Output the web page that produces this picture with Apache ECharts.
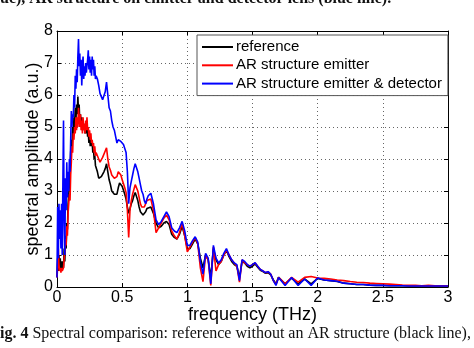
<!DOCTYPE html>
<html>
<head>
<meta charset="utf-8">
<script src="https://cdn.jsdelivr.net/npm/echarts@6/dist/echarts.min.js"></script>
<style>
html,body{margin:0;padding:0;background:#fff;}
#chart{width:474px;height:348px;}
</style>
</head>
<body>
<div id="chart"></div>
<script>
// frequency (THz)
var freq = [
0,0.005,0.01,0.015,0.02,0.025,0.03,0.035,0.04,0.045,0.05,0.055,0.06,0.065,0.07,0.075,0.08,0.085,0.09,0.095,
0.1,0.105,0.11,0.115,0.12,0.125,0.13,0.135,0.14,0.145,0.15,0.155,0.16,0.165,0.17,0.175,0.18,0.185,0.19,0.195,
0.2,0.205,0.21,0.215,0.22,0.225,0.23,0.235,0.24,0.245,0.25,0.255,0.26,0.265,0.27,0.275,0.28,0.285,0.29,0.295,0.3,
0.31,0.32,0.33,0.34,0.35,0.36,0.37,0.38,0.39,0.40,0.41,0.42,0.43,0.44,0.45,0.46,0.47,0.48,0.49,0.50,
0.51,0.52,0.53,0.54,0.55,0.56,0.57,0.58,0.59,0.60,0.61,0.62,0.63,0.64,0.65,0.66,0.67,0.68,0.69,0.70,
0.72,0.74,0.76,0.78,0.80,0.82,0.84,0.86,0.88,0.90,0.92,0.94,0.96,0.98,1.00,
1.02,1.04,1.06,1.08,1.10,1.12,1.14,1.16,1.18,1.20,1.22,1.24,1.26,1.28,1.30,
1.32,1.34,1.36,1.38,1.40,1.42,1.44,1.46,1.48,1.50,1.52,1.54,1.56,1.58,1.60,
1.62,1.64,1.66,1.68,1.70,
1.75,1.80,1.85,1.90,1.95,2.00,2.05,2.10,2.15,2.20,2.25,2.30,2.35,2.40,2.45,2.50,
2.55,2.60,2.65,2.70,2.75,2.80,2.85,2.90,2.95,3.00
];
// reference (black)
var reference = [
0.3,0.9,0.5,1.0,0.6,0.9,0.5,0.8,0.5,0.8,0.6,1.2,0.8,1.6,1.2,2.0,1.8,2.6,2.9,3.2,
3.6,4.2,4.6,4.4,5.0,4.7,5.3,5.0,5.6,5.2,5.7,5.4,5.95,5.5,5.7,5.1,5.4,5.0,5.3,4.9,
5.2,4.9,5.1,4.8,5.1,4.8,5.0,4.7,4.8,4.5,4.7,4.4,4.6,4.4,4.5,4.2,4.3,4.0,4.1,3.8,3.8,
3.6,3.4,3.35,3.45,3.5,3.6,3.7,3.85,3.6,3.35,3.2,3.0,2.95,2.9,2.85,2.9,3.1,3.25,3.2,3.15,
3.1,2.9,2.75,2.5,2.3,2.45,2.6,2.7,2.85,2.95,2.9,2.7,2.5,2.35,2.3,2.25,2.3,2.35,2.45,2.5,
2.5,2.3,2.0,1.85,1.9,2.0,2.05,1.95,1.65,1.55,1.5,1.65,1.9,1.6,1.2,
1.2,1.35,1.5,1.35,0.9,0.6,1.0,0.85,0.3,1.2,0.85,0.7,0.8,1.0,1.15,
0.95,0.8,0.7,0.65,0.3,0.8,0.75,0.65,0.6,0.65,0.72,0.62,0.52,0.48,0.43,
0.45,0.38,0.22,0.1,0.3,
0.1,0.28,0.1,0.25,0.1,0.27,0.22,0.2,0.17,0.12,0.1,0.08,0.08,0.06,0.05,0.05,
0.04,0.04,0.04,0.03,0.03,0.03,0.03,0.03,0.03,0.03
];
// AR structure emitter (red)
var emitter = [
0.3,0.6,1.2,0.7,0.5,0.6,0.45,0.6,0.5,0.55,0.6,0.9,1.1,1.5,1.3,1.9,1.6,2.3,2.6,2.9,
2.7,3.5,3.9,4.4,4.2,4.8,4.6,5.0,4.8,5.3,4.9,5.3,5.0,5.6,5.3,5.0,5.4,4.9,5.2,4.8,
5.3,4.9,5.1,4.8,5.2,4.9,5.3,4.9,5.0,4.7,4.9,4.6,4.8,4.5,4.6,4.4,4.5,4.2,4.4,4.1,4.2,
4.1,4.0,3.9,3.95,4.05,4.1,4.25,4.35,4.0,3.75,3.65,3.5,3.45,3.4,3.35,3.45,3.6,3.65,3.5,3.35,
3.3,3.1,2.95,2.4,1.55,2.4,2.7,2.9,3.05,3.2,3.25,3.0,2.8,2.6,2.5,2.45,2.5,2.6,2.7,2.75,
2.75,2.4,1.7,1.85,2.0,2.15,2.25,2.1,1.75,1.6,1.5,1.7,2.0,1.6,1.1,
1.25,1.4,1.55,1.35,0.6,0.17,1.0,0.85,0.05,1.25,0.5,0.7,0.8,1.0,1.15,
1.0,0.85,0.75,0.65,0.15,0.85,0.75,0.7,0.65,0.7,0.75,0.65,0.55,0.5,0.45,
0.47,0.4,0.2,0.08,0.3,
0.1,0.3,0.15,0.3,0.33,0.28,0.27,0.25,0.22,0.2,0.17,0.15,0.14,0.12,0.11,0.1,
0.09,0.08,0.06,0.05,0.05,0.04,0.05,0.04,0.04,0.04
];
// AR structure emitter & detector (blue)
var emitterDetector = [
0.3,2.5,0.9,2.6,1.5,2.4,1.2,2.6,1.0,3.2,5.2,2.0,1.0,3.4,2.4,3.9,2.8,3.6,3.0,4.0,
3.6,4.6,5.5,5.0,5.4,5.3,6.0,5.6,6.6,6.2,6.8,6.4,7.2,7.75,6.9,7.3,6.6,7.1,6.3,6.9,
7.2,6.5,6.9,6.6,7.0,6.7,6.9,7.1,7.4,6.8,7.2,6.7,7.1,6.6,7.2,6.8,7.1,6.6,6.9,6.5,6.6,
6.5,6.3,6.05,5.95,5.85,5.9,6.1,6.4,6.0,5.6,5.5,5.2,5.0,4.9,4.7,4.5,4.6,4.65,4.55,4.6,
4.45,4.4,4.2,3.6,2.6,3.1,3.3,3.5,3.7,3.85,3.8,3.6,3.4,3.2,3.0,2.9,2.7,2.6,2.75,2.85,
2.93,2.6,2.1,1.95,2.05,2.2,2.35,2.2,1.85,1.75,1.7,1.85,2.05,1.75,1.3,
1.3,1.45,1.57,1.4,0.8,0.4,1.05,0.9,0.1,1.3,0.9,0.75,0.85,1.05,1.2,
1.0,0.85,0.75,0.7,0.2,0.85,0.8,0.7,0.65,0.7,0.76,0.65,0.55,0.5,0.45,
0.48,0.4,0.2,0.05,0.3,
0.05,0.3,0.05,0.25,0.05,0.28,0.22,0.2,0.18,0.12,0.1,0.08,0.08,0.06,0.05,0.05,
0.04,0.04,0.04,0.03,0.03,0.03,0.03,0.03,0.03,0.03
];
var seriesNames = ['reference', 'AR structure emitter', 'AR structure emitter & detector'];
var seriesColors = ['#000000', '#ff0000', '#0000ff'];
var xTicks = [0, 0.5, 1, 1.5, 2, 2.5, 3];
var yTicks = [0, 1, 2, 3, 4, 5, 6, 7, 8];
var topCaption = 'ue), AR structure on emitter and detector lens (blue line).';
var bottomCaptionBold = 'ig. 4';
var bottomCaption = ' Spectral comparison: reference without an AR structure (black line),';

function pairs(vals) { return freq.map(function (f, i) { return [f, vals[i]]; }); }
var allVals = [reference, emitter, emitterDetector];

var FONT = '"Liberation Sans", Arial, Helvetica, sans-serif';
var chart = echarts.init(document.getElementById('chart'), null, {renderer: 'canvas'});
var axisCommon = {
  type: 'value',
  axisLine: {show: true, onZero: false, lineStyle: {color: '#000', width: 1}},
  axisTick: {show: true, inside: true, length: 4, lineStyle: {color: '#000'}}
};
chart.setOption({
  animation: false,
  backgroundColor: '#fff',
  grid: {left: 57, right: 26, top: 31, bottom: 61, containLabel: false},
  legend: {
    orient: 'vertical',
    left: 197, top: 35,
    data: seriesNames,
    backgroundColor: '#fff',
    borderColor: '#555',
    borderWidth: 1,
    borderRadius: 0,
    padding: [3, 6, 3, 5],
    itemGap: 0.3,
    itemWidth: 31,
    itemHeight: 2,
    icon: 'rect',
    textStyle: {fontFamily: FONT, fontSize: 15, color: '#000', lineHeight: 18, padding: [0, 0, 0, -2]}
  },
  xAxis: [
    Object.assign({}, axisCommon, {
      position: 'bottom', min: xTicks[0], max: xTicks[xTicks.length - 1], interval: 0.5,
      name: 'frequency (THz)', nameLocation: 'middle', nameGap: 19, nameMoveOverlap: false,
      nameTextStyle: {fontFamily: FONT, fontSize: 18, color: '#000'},
      axisLabel: {show: true, margin: 3, fontFamily: FONT, fontSize: 16, color: '#000'},
      splitLine: {show: true, lineStyle: {color: '#666', width: 1, type: [1, 3]}}
    }),
    Object.assign({}, axisCommon, {
      position: 'top', min: 0, max: 3, interval: 0.5,
      axisLabel: {show: false}, splitLine: {show: false}
    })
  ],
  yAxis: [
    Object.assign({}, axisCommon, {
      position: 'left', min: yTicks[0], max: yTicks[yTicks.length - 1], interval: 1,
      name: 'spectral amplitude (a.u.)', nameLocation: 'middle', nameGap: 15, nameMoveOverlap: false,
      nameTextStyle: {fontFamily: FONT, fontSize: 18, color: '#000'},
      axisLabel: {show: true, margin: 4, fontFamily: FONT, fontSize: 16, color: '#000'},
      splitLine: {show: true, lineStyle: {color: '#666', width: 1, type: [1, 3]}}
    }),
    Object.assign({}, axisCommon, {
      position: 'right', min: 0, max: 8, interval: 1,
      axisLabel: {show: false}, splitLine: {show: false}
    })
  ],
  series: seriesNames.map(function (n, k) {
    return {
      name: n, type: 'line', xAxisIndex: 0, yAxisIndex: 0,
      data: pairs(allVals[k]),
      showSymbol: false, symbol: 'none',
      lineStyle: {color: seriesColors[k], width: 1.6},
      itemStyle: {color: seriesColors[k]},
      z: 2 + k
    };
  }),
  graphic: [
    {type: 'text', left: 0, top: -9, silent: true,
     style: {text: topCaption, font: 'bold 16px "Liberation Serif", "Times New Roman", serif', fill: '#111'}},
    {type: 'text', left: 0, top: 326, silent: true,
     style: {
       text: '{b|' + bottomCaptionBold + '}{r|' + bottomCaption + '}',
       rich: {
         b: {font: 'bold 16px "Liberation Serif", "Times New Roman", serif', fill: '#111'},
         r: {font: '16px "Liberation Serif", "Times New Roman", serif', fill: '#111'}
       }
     }}
  ]
});
</script>
</body>
</html>
